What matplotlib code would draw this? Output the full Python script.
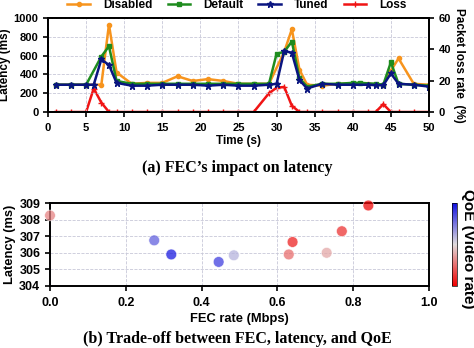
import numpy as np
import matplotlib
matplotlib.use("Agg")
from matplotlib import pyplot as plt
from matplotlib.colors import LinearSegmentedColormap

# (a) latency over time
dis_t = [1, 3, 5, 7, 8, 9, 11, 13, 15, 17, 19, 21, 23, 25, 27, 29, 31, 32, 33, 34, 36, 38, 40, 42, 44, 45, 46, 48, 50]
dis_v = [290, 290, 290, 290, 930, 420, 300, 310, 310, 380, 330, 350, 330, 300, 300, 300, 640, 880, 450, 290, 280, 300, 300, 300, 290, 440, 570, 300, 290]

def_t = [1, 3, 5, 7, 8, 9, 11, 13, 15, 17, 19, 21, 23, 25, 27, 29, 30, 31, 32, 33, 34, 36, 38, 40, 41, 43, 44, 45, 46, 48, 50]
def_v = [290, 290, 290, 590, 700, 330, 300, 300, 300, 300, 300, 300, 300, 300, 300, 300, 620, 640, 750, 360, 270, 300, 300, 310, 310, 300, 290, 530, 300, 290, 280]

tun_t = [1, 3, 5, 6, 7, 8, 9, 11, 13, 15, 17, 19, 21, 23, 25, 27, 29, 30, 31, 32, 33, 34, 36, 38, 40, 42, 43, 44, 45, 46, 48, 50]
tun_v = [290, 290, 290, 290, 560, 500, 310, 280, 280, 290, 290, 290, 280, 290, 280, 280, 290, 300, 650, 630, 340, 250, 300, 290, 290, 290, 285, 285, 410, 300, 290, 270]

loss_t = [1, 3, 5, 6, 7, 8, 9, 11, 13, 15, 17, 19, 21, 23, 25, 27, 29, 30, 31, 32, 33, 34, 36, 38, 40, 42, 43, 44, 45, 46, 48, 50]
loss_v = [0, 0, 0, 15, 6, 0, 0, 0, 0, 0, 0, 0, 0, 0, 0, 0, 12, 15.5, 16, 4, 0, 0, 0, 0, 0, 0, 0, 5, 0, 0, 0, 0]

# (b) FEC rate vs latency, coloured by QoE
fec_rate = [0.0, 0.275, 0.32, 0.445, 0.485, 0.63, 0.64, 0.73, 0.77, 0.84]
fec_lat = [308.25, 306.75, 305.9, 305.45, 305.85, 305.9, 306.65, 306.0, 307.3, 308.85]
qoe = [0.3, 0.8, 0.97, 0.88, 0.6, 0.25, 0.08, 0.38, 0.12, 0.02]

plt.rcParams['font.family'] = ['Liberation Sans', 'DejaVu Sans']
plt.rcParams['font.weight'] = 'bold'
plt.rcParams['font.size'] = 8
plt.rcParams['axes.linewidth'] = 1.4
plt.rcParams['xtick.major.width'] = 1.2
plt.rcParams['ytick.major.width'] = 1.2
plt.rcParams['xtick.major.size'] = 3.5
plt.rcParams['ytick.major.size'] = 3.5
plt.rcParams['xtick.major.pad'] = 4.5

W, H = 474, 348
fig = plt.figure(figsize=(W / 100, H / 100), dpi=100)


def box(l, t, r, b):
	return [l / W, 1 - b / H, (r - l) / W, (b - t) / H]


ax = fig.add_axes(box(48, 18, 429, 112))
grid_kw = dict(color='#c8c8d8', linestyle='--', linewidth=0.6)
d, = ax.plot(dis_t, dis_v, color='#f7941d', marker='o', ms=3, lw=1.8)
g, = ax.plot(def_t, def_v, color='#1e8c1e', marker='s', ms=3, lw=1.8)
tu, = ax.plot(tun_t, tun_v, color='#0a1580', marker='*', ms=4.5, lw=1.8)
ax.set_xlim(0, 50)
ax.set_ylim(0, 1000)
ax.set_xticks(range(0, 51, 5))
ax.set_yticks(range(0, 1001, 200))
ax.set_xlabel("Time (s)", fontweight='bold', fontsize=8.5, labelpad=1.5)
ax.set_ylabel("Latency (ms)", fontweight='bold', fontsize=8.5, labelpad=2)
ax.grid(True, **grid_kw)
ax.set_axisbelow(True)

ax2 = ax.twinx()
lo, = ax2.plot(loss_t, loss_v, color='#f01414', marker='+', ms=4, lw=1.8)
ax2.set_ylim(0, 60)
ax2.set_yticks(range(0, 61, 20))
ax2.set_ylabel("Packet loss rate  (%)", fontweight='bold', fontsize=8.5, rotation=-90, labelpad=10)
ax.set_zorder(ax2.get_zorder() + 1)
ax.patch.set_visible(False)

fig.legend(handles=[d, g, tu, lo], labels=['Disabled', 'Default', 'Tuned', 'Loss'],
		   loc='center', bbox_to_anchor=(0.5, 1 - 5 / H), ncol=4, frameon=False,
		   handlelength=1.9, handletextpad=1.1, columnspacing=1.3, fontsize=8.5)

fig.text(0.5, 1 - 168 / H, "(a) FEC’s impact on latency", ha='center', va='center',
		 family='Liberation Serif', fontweight='bold', fontsize=11.5)

cmap = LinearSegmentedColormap.from_list('qoe', ['#f00000', '#e0dcdc', '#1010e0'])
bx = fig.add_axes(box(50, 203, 429, 286))
sc = bx.scatter(fec_rate, fec_lat, c=qoe, cmap=cmap, vmin=0, vmax=1, s=60,
				alpha=0.75, edgecolors='white', linewidths=0.5, clip_on=False, zorder=3)
bx.set_xlim(0, 1)
bx.set_ylim(304, 309)
bx.set_xticks(np.arange(0, 1.01, 0.2))
bx.set_xticklabels([f"{v:.1f}" for v in np.arange(0, 1.01, 0.2)], fontsize=9)
bx.set_yticks(range(304, 310))
bx.set_yticklabels([str(v) for v in range(304, 310)], fontsize=9)
bx.set_xlabel("FEC rate (Mbps)", fontweight='bold', fontsize=9.3, labelpad=3)
bx.set_ylabel("Latency (ms)", fontweight='bold', fontsize=9.3, labelpad=2)
bx.grid(True, **grid_kw)
bx.set_axisbelow(True)

cax = fig.add_axes(box(452, 203, 457, 286))
cb = fig.colorbar(sc, cax=cax)
cb.solids.set_alpha(1)
cb.set_ticks([])
cb.outline.set_linewidth(0.5)
cax.text(3.2, 0.45, "QoE (Video rate)", rotation=-90, ha='center', va='center',
		 transform=cax.transAxes, fontweight='bold', fontsize=11)

fig.text(0.5, 1 - 339 / H, "(b) Trade-off between FEC, latency, and QoE", ha='center', va='center',
		 family='Liberation Serif', fontweight='bold', fontsize=11.5)

fig.savefig("out.png", dpi=100)
